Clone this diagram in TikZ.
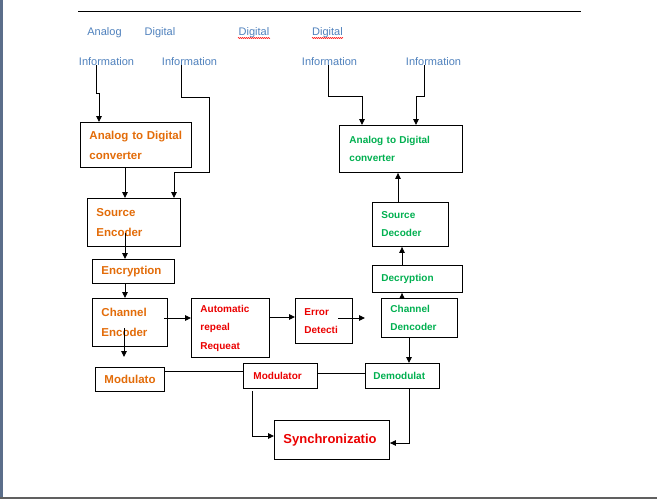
\documentclass[tikz,border=0pt]{standalone}
\usepackage{fontspec}
\setmainfont{Liberation Sans}
\usepackage{tikz}
\usetikzlibrary{arrows.meta, decorations.pathmorphing}
\hyphenpenalty=10000
\definecolor{infoblue}{RGB}{79,129,189}
\definecolor{txorange}{RGB}{227,108,9}
\definecolor{rxgreen}{RGB}{0,176,80}
\definecolor{arqred}{RGB}{235,0,0}
\tikzstyle{arrow} = [line width=0.9pt,->,>={Triangle[length=6pt,width=5.5pt]}]
\tikzstyle{link} = [line width=0.9pt]
\tikzstyle{info} = [inner sep=0pt, anchor=base, text=infoblue, font=\fontsize{11}{13}\selectfont]
\tikzstyle{box} = [draw, line width=0.9pt, anchor=north west, align=left, inner xsep=9pt, inner ysep=0pt]
\tikzstyle{tx} = [box, text=txorange, font=\bfseries\fontsize{11.5}{20}\selectfont]
\tikzstyle{arq} = [box, text=arqred, font=\bfseries\fontsize{10}{18.5}\selectfont]
\tikzstyle{rx} = [box, text=rxgreen, font=\bfseries\fontsize{10}{18}\selectfont]

\begin{document}
\begin{tikzpicture}[x=1pt,y=-1pt]
\useasboundingbox (0,0) rectangle (657,499);
\fill[fill=white] (0,0) rectangle (657,499);
\fill[fill={rgb,255:red,91;green,110;blue,138}] (0,0) rectangle (2.5,499);
\draw[line width=1.3pt, color={rgb,255:red,96;green,96;blue,96}] (0,498) -- (657,498);
\draw[line width=1pt] (78,11) -- (581,11);

% information labels
\node[info] (anA) at (104.5,35) {Analog};
\node[info] (digA) at (160,35) {Digital};
\node[info] (digB) at (254,35) {Digital};
\node[info] (digC) at (327.5,35) {Digital};
\node[info] (inA) at (106.5,65) {Information};
\node[info] (inB) at (189.5,65) {Information};
\node[info] (inC) at (329.5,65) {Information};
\node[info] (inD) at (433.5,65) {Information};
\draw[red, line width=0.5pt, decorate, decoration={zigzag, segment length=2pt, amplitude=0.6pt}] (238,38) -- (270,38);
\draw[red, line width=0.5pt, decorate, decoration={zigzag, segment length=2pt, amplitude=0.6pt}] (312,38) -- (343,38);

% transmitter side
\node[tx, text width=93pt, minimum height=45pt] (adcA) at (80,122) {Analog to Digital\\converter};
\node[tx, text width=75pt, minimum height=48pt] (srcEnc) at (87,198) {Source\\Encoder};
\node[tx, text width=64pt, minimum height=24pt] (encr) at (92,259) {Encryption};
\node[tx, text width=57pt, minimum height=48pt] (chEnc) at (92,298) {Channel\\Encoder};
\node[tx, text width=51pt, minimum height=24pt] (modA) at (95,367) {Modulato};

% middle
\node[arq, text width=60pt, minimum height=59pt] (arq) at (191,298) {Automatic\\repeal\\Requeat};
\node[arq, text width=39pt, minimum height=45pt] (err) at (295,298) {Error\\Detecti};
\node[arq, minimum height=25pt, inner xsep=10pt, text width=54pt] (modB) at (243,363) {Modulator};
\node[arq, text width=97pt, minimum height=39pt, font=\bfseries\fontsize{13}{15}\selectfont] (sync) at (274,420) {Synchronizatio};

% receiver side
\node[rx, text width=103pt, minimum height=47pt, inner xsep=10pt] (adcB) at (339,125) {Analog to Digital\\converter};
\node[rx, text width=58pt, minimum height=44pt] (srcDec) at (372,202) {Source\\Decoder};
\node[rx, text width=72pt, minimum height=27pt] (decr) at (372,265) {Decryption};
\node[rx, text width=58pt, minimum height=39pt] (chDec) at (381,298) {Channel\\Dencoder};
\node[rx, text width=58pt, minimum height=25pt, inner xsep=8pt] (demod) at (365,363) {Demodulat};

% free ends
\coordinate (seIn) at (125,233);
\coordinate (ceIn) at (124,328);
\coordinate (ceOut) at (124,357);
\coordinate (ceR) at (164,318);
\coordinate (erIn) at (338,318);
\coordinate (erOut) at (365,318);
\coordinate (mbOut) at (252,391);

% connectors
\draw[arrow] (inA.south -| 96,0) |- (99,93) -- (adcA.north -| 99,0);
\draw[arrow] (inB.south -| 181,0) |- (209,97) |- (174,172) -- (srcEnc.north -| 174,0);
\draw[arrow] (adcA.south -| 125,0) -- (srcEnc.north -| 125,0);
\draw[arrow] (seIn) -- (encr.north -| seIn);
\draw[arrow] (encr.south -| 125,0) -- (chEnc.north -| 125,0);
\draw[arrow] (ceIn) -- (ceOut);
\draw[arrow] (ceR) -- (ceR -| arq.west);
\draw[arrow] (arq.east |- 0,317) -- (err.west |- 0,317);
\draw[arrow] (erIn) -- (erOut);
\draw[arrow] (chDec.north -| 402,0) -- (decr.south -| 402,0);
\draw[arrow] (decr.north -| 402,0) -- (srcDec.south -| 402,0);
\draw[arrow] (srcDec.north -| 398,0) -- (adcB.south -| 398,0);
\draw[arrow] (inC.south -| 328,0) |- (362,96) -- (adcB.north -| 362,0);
\draw[arrow] (inD.south -| 424,0) |- (416,96) -- (adcB.north -| 416,0);
\draw[arrow] (chDec.south -| 409,0) -- (demod.north -| 409,0);
\draw[link] (modA.east |- 0,371) -- (modB.west |- 0,371);
\draw[link] (modB.east |- 0,373) -- (demod.west |- 0,373);
\draw[arrow] (mbOut) |- (sync.west |- 0,436);
\draw[arrow] (demod.south -| 409,0) |- (sync.east |- 0,443);
\end{tikzpicture}
\end{document}
